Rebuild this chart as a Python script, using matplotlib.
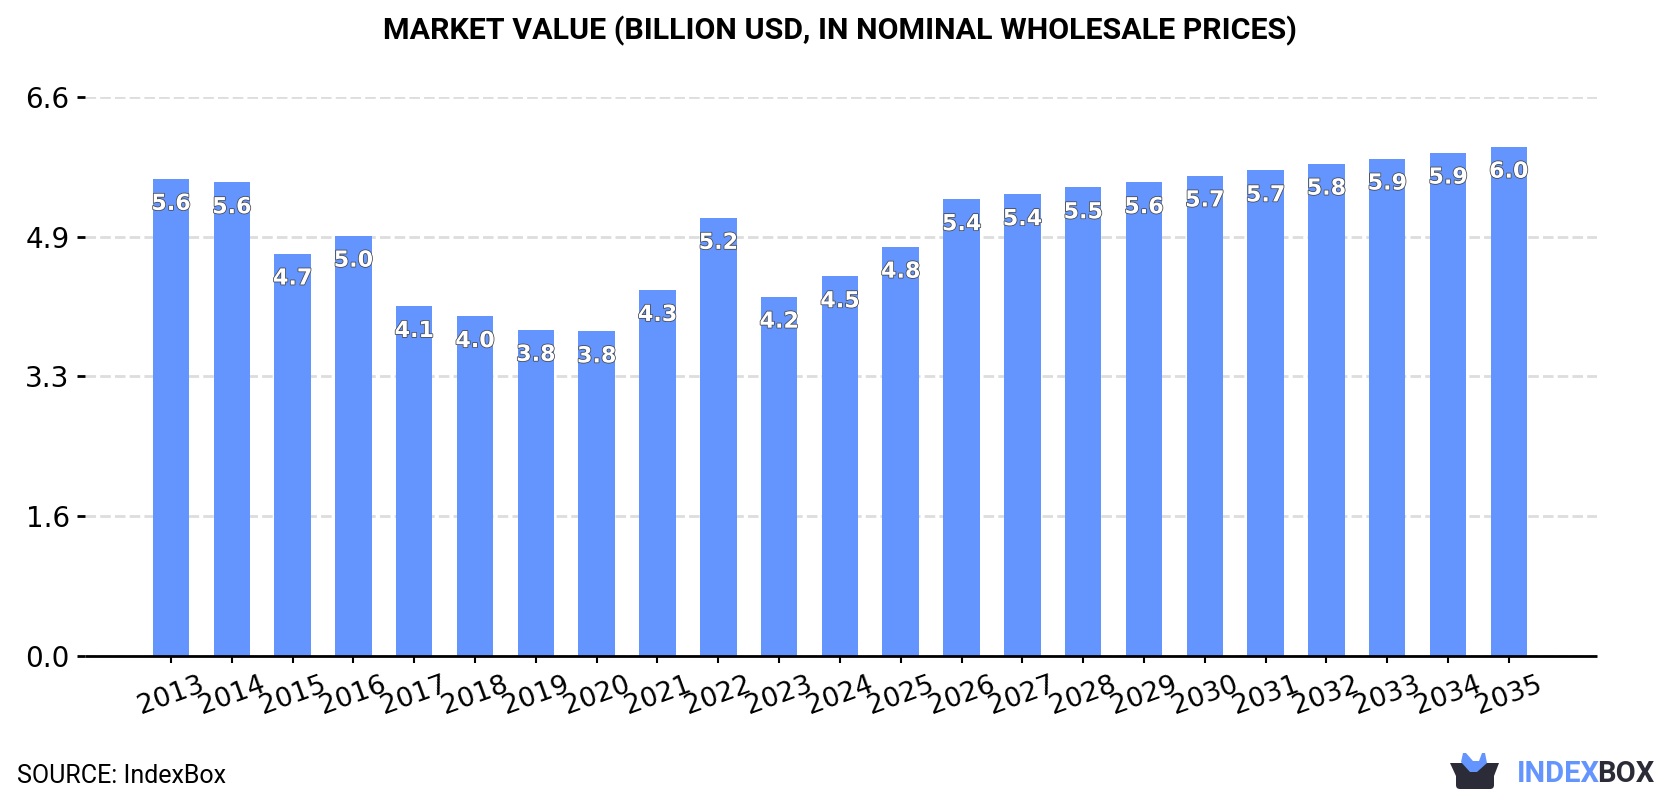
import matplotlib
matplotlib.use("Agg")
import matplotlib.pyplot as plt
import matplotlib.patheffects as pe
from matplotlib.patches import Polygon, FancyBboxPatch

# market value by year, billion USD
years = [2013, 2014, 2015, 2016, 2017, 2018, 2019, 2020, 2021, 2022, 2023, 2024,
         2025, 2026, 2027, 2028, 2029, 2030, 2031, 2032, 2033, 2034, 2035]
values = [5.63, 5.59, 4.749, 4.96, 4.13, 4.01, 3.849, 3.83, 4.32, 5.17, 4.24, 4.48,
          4.83, 5.39, 5.449, 5.53, 5.59, 5.67, 5.73, 5.81, 5.87, 5.94, 6.01]
y_ticks = [0.0, 1.65, 3.3, 4.95, 6.6]
y_tick_labels = ["0.0", "1.6", "3.3", "4.9", "6.6"]

W, H = 1680, 800
BLUE = "#6495FF"
DARK = "#2B2C38"

fig = plt.figure(figsize=(W / 100, H / 100), dpi=100)
ax = fig.add_axes([85 / W, 1 - 656 / H, (1597 - 85) / W, (656 - 96.7) / H])

x = list(range(len(years)))
ax.bar(x, values, width=0.6, color=BLUE, zorder=2)

ax.set_xlim(-1.414, 23.45)
ax.set_ylim(0, 6.6)
ax.set_yticks(y_ticks)
ax.set_yticklabels(y_tick_labels)
ax.set_xticks(x)
ax.set_xticklabels(years, rotation=20, ha="center")
ax.tick_params(axis="y", labelsize=20, length=6, width=2, pad=5)
ax.tick_params(axis="x", labelsize=19.5, length=5, width=1.5, pad=6)
ax.yaxis.grid(True, color="#DDDDDD", linewidth=2, linestyle=(0, (3.8, 1.5)), zorder=1)
ax.set_axisbelow(True)
for side in ["top", "left", "right"]:
    ax.spines[side].set_visible(False)
ax.spines["bottom"].set_linewidth(2)
ax.spines["bottom"].set_capstyle("butt")

# value labels inside the bars
for xi, v in zip(x, values):
    ax.annotate(f"{v:.1f}", (xi, v), xytext=(0, -18), textcoords="offset points",
                ha="center", va="center", fontsize=16, fontweight="bold", color="white",
                path_effects=[pe.withStroke(linewidth=1.1, foreground="#444444")], zorder=3)

fig.text(0.5, 1 - 31 / H, "MARKET VALUE (BILLION USD, IN NOMINAL WHOLESALE PRICES)",
         family="Roboto", fontweight="bold", fontsize=21.9, ha="center", va="center")
fig.text(17 / W, 1 - 776 / H, "SOURCE: IndexBox", family="Roboto", fontsize=18,
         ha="left", va="center")

# logo in pixel coordinates
logo = fig.add_axes([0, 0, 1, 1], facecolor="none")
logo.set_xlim(0, W)
logo.set_ylim(H, 0)
logo.axis("off")
logo.add_patch(FancyBboxPatch((1456, 770), 38, 19, boxstyle="round,pad=0,rounding_size=4",
                              fc=DARK, ec="none"))
logo.add_patch(Polygon([(1450, 763), (1499, 763), (1494, 776), (1456, 776)], fc=DARK, ec="none"))
logo.add_patch(Polygon([(1461, 762), (1463, 753), (1466, 753), (1473, 761), (1479, 761), (1482, 753),
                        (1485, 753), (1487, 763), (1477, 772), (1470, 772)], fc=BLUE, ec="none"))
logo.text(1517, 774, "INDEX", family="Roboto", fontweight="bold", fontsize=21,
          color=BLUE, ha="left", va="center")
logo.text(1597, 774, "BOX", family="Roboto", fontweight="bold", fontsize=21,
          color=DARK, ha="left", va="center")

fig.savefig("out.png", dpi=100)
